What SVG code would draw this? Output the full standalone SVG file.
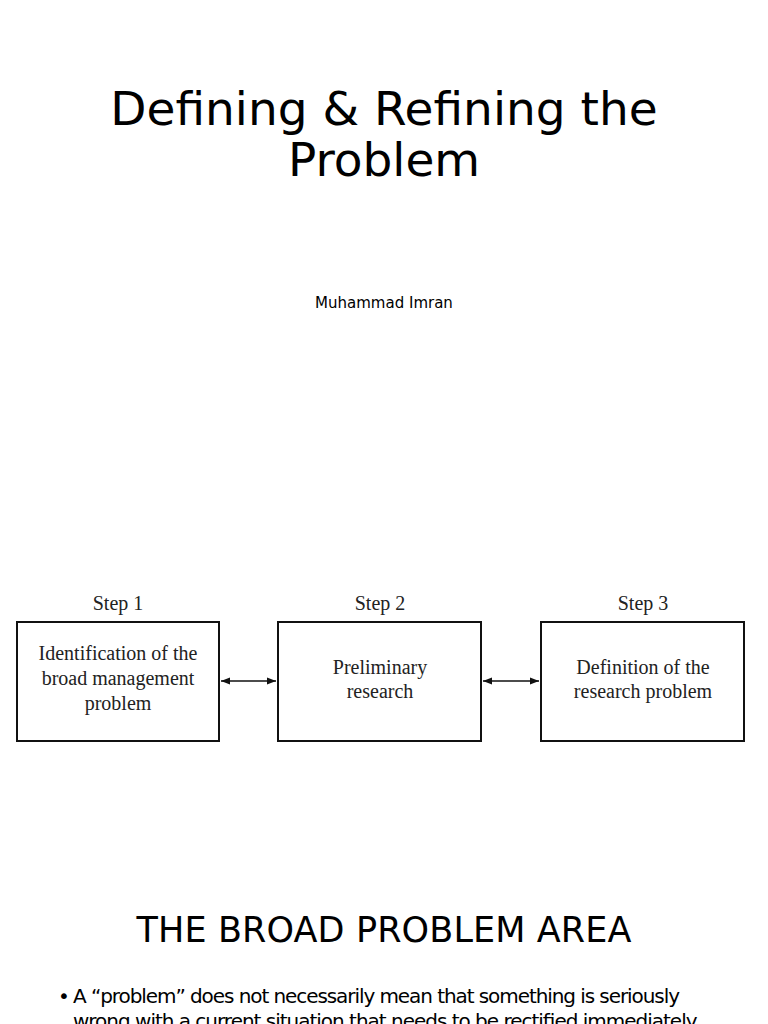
<svg xmlns="http://www.w3.org/2000/svg" width="768" height="1024" viewBox="0 0 768 1024">
<style>
.t{font-family:"DejaVu Sans",sans-serif;fill:#000}
.s{font-family:"Liberation Serif",serif;font-size:20px;fill:#222;text-anchor:middle}
.b{fill:#fff;stroke:#111;stroke-width:2}
.c{stroke:#111;stroke-width:1.5;fill:none;marker-start:url(#a);marker-end:url(#a)}
</style>
<defs><marker id="a" viewBox="0 0 10 10" refX="10" refY="5" markerWidth="9" markerHeight="9" orient="auto-start-reverse" markerUnits="userSpaceOnUse"><path d="M0,1 L10,5 L0,9 Z" fill="#111"/></marker></defs>
<rect width="768" height="1024" fill="#fff"/>
<text class="t" x="384" y="125" font-size="47" text-anchor="middle">Defining &amp; Refining the</text>
<text class="t" x="384" y="176" font-size="47" text-anchor="middle">Problem</text>
<text class="t" x="384" y="308" font-size="15" text-anchor="middle">Muhammad Imran</text>
<g id="step1"><text class="s" x="118" y="610">Step 1</text><rect class="b" x="17" y="622" width="202" height="119"/>
<text class="s" x="118" y="660">Identification of the</text><text class="s" x="118" y="685">broad management</text><text class="s" x="118" y="710">problem</text></g>
<g id="step2"><text class="s" x="380" y="610">Step 2</text><rect class="b" x="278" y="622" width="203" height="119"/>
<text class="s" x="380" y="674">Preliminary</text><text class="s" x="380" y="698">research</text></g>
<g id="step3"><text class="s" x="643" y="610">Step 3</text><rect class="b" x="541" y="622" width="203" height="119"/>
<text class="s" x="643" y="674">Definition of the</text><text class="s" x="643" y="698">research problem</text></g>
<g id="connectors"><line class="c" x1="221" y1="681" x2="276" y2="681"/><line class="c" x1="483" y1="681" x2="539" y2="681"/></g>
<text class="t" x="384" y="942" font-size="35" text-anchor="middle" textLength="495">THE BROAD PROBLEM AREA</text>
<text class="t" x="58" y="1003" font-size="20">•</text>
<text class="t" x="73" y="1003" font-size="20" textLength="607">A “problem” does not necessarily mean that something is seriously</text>
<text class="t" x="73" y="1028" font-size="20" textLength="627">wrong with a current situation that needs to be rectified immediately.</text>
</svg>
